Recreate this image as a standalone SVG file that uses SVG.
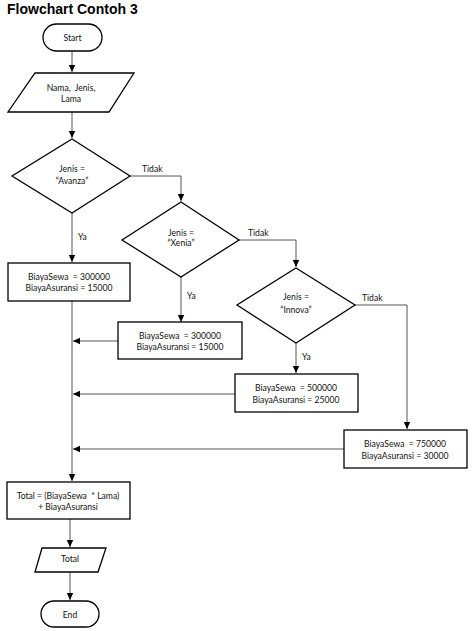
<svg xmlns="http://www.w3.org/2000/svg" width="474" height="631" viewBox="0 0 474 631">
<defs>
<marker id="ah" markerWidth="8" markerHeight="8" refX="7" refY="4" orient="auto" markerUnits="userSpaceOnUse">
<path d="M0,0.8 L7,4 L0,7.2 Z" fill="#000"/>
</marker>
</defs>
<style>
.s{fill:#fff;stroke:#000;stroke-width:1.3}
.t{font-family:Lato,"Liberation Sans",sans-serif;font-size:8.6px;fill:#111;text-anchor:middle;white-space:pre}
.l{font-family:Lato,"Liberation Sans",sans-serif;font-size:8.6px;fill:#111}
.c{fill:none;stroke:#555;stroke-width:1}
.title{font-family:"Liberation Sans",Arial,sans-serif;font-size:14px;font-weight:bold;fill:#000}
</style>
<rect width="474" height="631" fill="#fff"/>
<text class="title" x="7" y="14">Flowchart Contoh 3</text>
<g id="connectors">
<path class="c" d="M72,51 V72" marker-end="url(#ah)"/>
<path class="c" d="M72,112 V138" marker-end="url(#ah)"/>
<path class="c" d="M72,213 V262" marker-end="url(#ah)"/>
<path class="c" d="M130,176 H181 V201" marker-end="url(#ah)"/>
<path class="c" d="M181,277 V322" marker-end="url(#ah)"/>
<path class="c" d="M239,240 H296 V267" marker-end="url(#ah)"/>
<path class="c" d="M296,343 V373" marker-end="url(#ah)"/>
<path class="c" d="M355,305 H407 V429" marker-end="url(#ah)"/>
<path class="c" d="M72,301 V481" marker-end="url(#ah)"/>
<path class="c" d="M118,341 H73" marker-end="url(#ah)"/>
<path class="c" d="M235,394 H73" marker-end="url(#ah)"/>
<path class="c" d="M344,449 H73" marker-end="url(#ah)"/>
<path class="c" d="M70,519 V547" marker-end="url(#ah)"/>
<path class="c" d="M70,572 V600" marker-end="url(#ah)"/>
<text class="l" x="142" y="172">Tidak</text>
<text class="l" x="248" y="236">Tidak</text>
<text class="l" x="362" y="301">Tidak</text>
<text class="l" x="78" y="240">Ya</text>
<text class="l" x="187" y="299">Ya</text>
<text class="l" x="302" y="360">Ya</text>
</g>
<g id="start">
<rect class="s" x="43" y="24" width="59" height="27" rx="13.5"/>
<text class="t" x="72.5" y="41">Start</text>
</g>
<g id="input">
<polygon class="s" points="35,73 134,73 109,112 8,112"/>
<text class="t" x="71" y="91">Nama,  Jenis,</text>
<text class="t" x="71" y="102">Lama</text>
</g>
<g id="d1">
<polygon class="s" points="72,139 130,176 72,213 12,176"/>
<text class="t" x="72" y="172">Jenis =</text>
<text class="t" x="72" y="184">“Avanza”</text>
</g>
<g id="b1">
<rect class="s" x="8" y="263" width="122" height="38"/>
<text class="t" x="69" y="280">BiayaSewa  = 300000</text>
<text class="t" x="69" y="291">BiayaAsuransi = 15000</text>
</g>
<g id="d2">
<polygon class="s" points="181,202 239,240 181,277 122,240"/>
<text class="t" x="181" y="236">Jenis =</text>
<text class="t" x="181" y="246">“Xenia”</text>
</g>
<g id="b2">
<rect class="s" x="118" y="322" width="124" height="37"/>
<text class="t" x="180" y="339">BiayaSewa  = 300000</text>
<text class="t" x="180" y="350">BiayaAsuransi = 15000</text>
</g>
<g id="d3">
<polygon class="s" points="296,268 355,305 296,343 237,305"/>
<text class="t" x="296" y="300">Jenis =</text>
<text class="t" x="296" y="313">“Innova”</text>
</g>
<g id="b3">
<rect class="s" x="235" y="374" width="123" height="38"/>
<text class="t" x="296" y="391">BiayaSewa  = 500000</text>
<text class="t" x="296" y="403">BiayaAsuransi = 25000</text>
</g>
<g id="b4">
<rect class="s" x="344" y="430" width="123" height="38"/>
<text class="t" x="405" y="447">BiayaSewa  = 750000</text>
<text class="t" x="405" y="459">BiayaAsuransi = 30000</text>
</g>
<g id="total">
<rect class="s" x="7" y="482" width="123" height="37"/>
<text class="t" x="68" y="499">Total = (BiayaSewa  * Lama)</text>
<text class="t" x="68" y="510">+ BiayaAsuransi</text>
</g>
<g id="output">
<polygon class="s" points="42,548 106,548 98,572 35,572"/>
<text class="t" x="70" y="562">Total</text>
</g>
<g id="end">
<rect class="s" x="41" y="601" width="58" height="26" rx="13"/>
<text class="t" x="70" y="618">End</text>
</g>
</svg>
